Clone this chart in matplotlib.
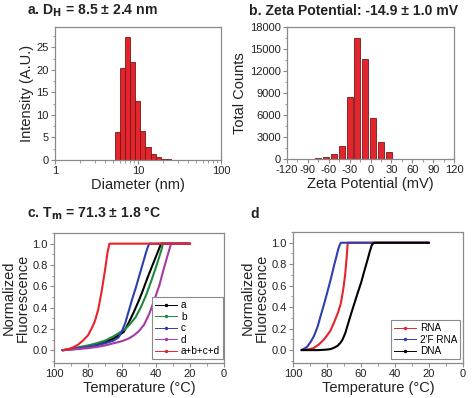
import numpy as np
import matplotlib
matplotlib.use('Agg')
import matplotlib.pyplot as plt
from matplotlib.lines import Line2D
from matplotlib.ticker import MultipleLocator, LogLocator, NullFormatter, FormatStrFormatter

plt.rcParams['font.family'] = ['Liberation Sans', 'DejaVu Sans']
plt.rcParams['axes.unicode_minus'] = False

# a. DLS size distribution
dh_edges = [5.28, 6.08, 7.01, 8.07, 9.30, 10.7, 12.3, 14.2, 16.4, 18.9, 21.7, 25.0, 28.8]
dh_counts = [6.3, 20.5, 27.3, 21.8, 13.1, 6.4, 2.9, 1.4, 0.7, 0.3, 0.15, 0.05]

# b. zeta potential distribution
zeta_mv = [-74.8, -63.6, -52.4, -41.2, -30.0, -18.8, -7.6, 3.6, 14.8, 26.0]
zeta_counts = [100, 250, 700, 1750, 8400, 16550, 13570, 5550, 2300, 920]

# c. melting curves
red_t = [95, 92, 89, 86, 83, 80, 78, 76, 74, 72, 70, 68.5, 67.4, 60, 40, 20]
red_f = [0, 0.008, 0.025, 0.05, 0.09, 0.14, 0.2, 0.27, 0.38, 0.55, 0.75, 0.92, 1.0, 1.0, 1.0, 1.0]
a_t = [95, 90, 85, 80, 75, 70, 65, 62, 59, 56, 53, 50, 48, 45, 42, 40, 38, 37, 30, 20]
a_f = [0, 0.01, 0.02, 0.035, 0.05, 0.075, 0.11, 0.14, 0.17, 0.26, 0.36, 0.47, 0.55, 0.68, 0.8, 0.88, 0.96, 1.0, 1.0, 1.0]
b_t = [95, 90, 85, 80, 75, 70, 65, 62, 58, 55, 52, 49, 46, 43, 40, 38, 36.5, 36, 30, 20]
b_f = [0, 0.012, 0.03, 0.045, 0.065, 0.09, 0.13, 0.16, 0.2, 0.25, 0.31, 0.4, 0.51, 0.64, 0.78, 0.88, 0.96, 1.0, 1.0, 1.0]
c_t = [95, 90, 85, 80, 75, 70, 65, 62, 60, 58, 56, 54, 52, 50, 48, 46, 45, 44, 30, 20]
c_f = [0, 0.008, 0.02, 0.03, 0.045, 0.065, 0.09, 0.12, 0.18, 0.26, 0.37, 0.48, 0.58, 0.69, 0.8, 0.91, 0.96, 1.0, 1.0, 1.0]
d_t = [95, 90, 85, 80, 75, 70, 65, 60, 56, 53, 50, 47, 44, 41, 38, 35.5, 33, 31.5, 31, 20]
d_f = [0, 0.005, 0.012, 0.02, 0.03, 0.045, 0.065, 0.085, 0.11, 0.14, 0.18, 0.24, 0.34, 0.47, 0.61, 0.76, 0.9, 0.98, 1.0, 1.0]

# d. RNA / 2'F RNA / DNA
rna_t = [95, 90, 87.7, 85, 81.7, 78, 75.8, 73.5, 71.8, 70.5, 69.4, 68.5, 67.8, 50, 20]
rna_f = [0, 0.01, 0.02, 0.05, 0.1, 0.18, 0.26, 0.35, 0.44, 0.56, 0.69, 0.85, 1.0, 1.0, 1.0]
frna_t = [95, 91.7, 89.5, 87.7, 85.5, 83.7, 81.7, 79.8, 77.8, 75.8, 74.5, 73.4, 72.5, 71.8, 50, 20]
frna_f = [0, 0.03, 0.08, 0.13, 0.22, 0.32, 0.43, 0.54, 0.66, 0.79, 0.87, 0.94, 0.98, 1.0, 1.0, 1.0]
dna_t = [95, 85, 80, 77.8, 75.5, 73.8, 72, 70.8, 69.2, 67.9, 66, 64, 62, 59.9, 58, 56, 54.8, 53.6, 52.4, 40, 20]
dna_f = [0, 0.0, 0.005, 0.01, 0.025, 0.04, 0.07, 0.1, 0.16, 0.23, 0.33, 0.43, 0.53, 0.63, 0.74, 0.85, 0.92, 0.98, 1.0, 1.0, 1.0]

grey = '#8a8a8a'
txt = '#222222'
bar_red = '#e3262d'
bar_edge = '#7a1515'

fig = plt.figure(figsize=(4.74, 3.98), dpi=100)
W, H = 474, 398


def box(l, t, r, b):
    return [l / W, 1 - b / H, (r - l) / W, (b - t) / H]


def style(ax):
    for s in ax.spines.values():
        s.set_color(grey)
        s.set_linewidth(0.9)
    ax.tick_params(which='both', direction='out', colors=grey, labelcolor=txt,
                   labelsize=8, top=False, right=False)
    ax.tick_params(which='major', length=3, width=0.8, pad=1.5)
    ax.tick_params(which='minor', length=1.8, width=0.6)


def melt_axes(ax, series, anchor):
    handles = []
    for t, f, col, lab in series:
        ax.plot(t, f, color=col, lw=1.5, solid_capstyle='round')
        handles.append(Line2D([], [], color=col, lw=0.7, marker='.', ms=3, label=lab))
    ax.set_xlim(100, 0)
    ax.set_ylim(-0.12, 1.1)
    ax.xaxis.set_major_locator(MultipleLocator(20))
    ax.xaxis.set_minor_locator(MultipleLocator(10))
    ax.yaxis.set_major_locator(MultipleLocator(0.2))
    ax.yaxis.set_minor_locator(MultipleLocator(0.1))
    ax.yaxis.set_major_formatter(FormatStrFormatter('%.1f'))
    style(ax)
    ax.set_xlabel('Temperature (°C)', fontsize=10.5, color=txt, labelpad=1)
    ax.set_ylabel('Normalized\nFluorescence', fontsize=10.5, color=txt, labelpad=2, linespacing=1.0)
    leg = ax.legend(handles=handles, loc='lower right', bbox_to_anchor=anchor, fontsize=7.2,
                    handlelength=2.2, handletextpad=0.4, borderpad=0.3, labelspacing=0.15,
                    fancybox=False, framealpha=1, edgecolor=grey, borderaxespad=0)
    leg.get_frame().set_linewidth(0.8)


ax1 = fig.add_axes(box(55, 27, 221, 160))
ax1.bar(dh_edges[:-1], dh_counts, width=np.diff(dh_edges), align='edge',
        color=bar_red, edgecolor=bar_edge, linewidth=0.6)
ax1.set_xscale('log')
ax1.set_xlim(1, 100)
ax1.set_ylim(0, 29.5)
ax1.set_xticks([1, 10, 100])
ax1.set_xticklabels(['1', '10', '100'])
ax1.xaxis.set_minor_locator(LogLocator(base=10, subs=np.arange(2, 10)))
ax1.xaxis.set_minor_formatter(NullFormatter())
ax1.yaxis.set_major_locator(MultipleLocator(5))
ax1.yaxis.set_minor_locator(MultipleLocator(2.5))
style(ax1)
ax1.set_xlabel('Diameter (nm)', fontsize=10.5, color=txt, labelpad=1)
ax1.set_ylabel('Intensity (A.U.)', fontsize=10.5, color=txt, labelpad=2)

ax2 = fig.add_axes(box(287, 27, 454, 159))
ax2.bar(zeta_mv, zeta_counts, width=8.6, color=bar_red, edgecolor=bar_edge, linewidth=0.6)
ax2.set_xlim(-120, 120)
ax2.set_ylim(0, 18000)
ax2.xaxis.set_major_locator(MultipleLocator(30))
ax2.xaxis.set_minor_locator(MultipleLocator(15))
ax2.yaxis.set_major_locator(MultipleLocator(3000))
ax2.yaxis.set_minor_locator(MultipleLocator(1500))
style(ax2)
ax2.set_xlabel('Zeta Potential (mV)', fontsize=10.5, color=txt, labelpad=1)
ax2.set_ylabel('Total Counts', fontsize=10.5, color=txt, labelpad=2)

ax3 = fig.add_axes(box(54, 233, 224, 363))
melt_axes(ax3, [(a_t, a_f, 'black', 'a'), (b_t, b_f, '#1e8a3e', 'b'),
                (c_t, c_f, '#2d3fae', 'c'), (d_t, d_f, '#a53aa5', 'd'),
                (red_t, red_f, '#e8232a', 'a+b+c+d')], (0.995, 0.03))

ax4 = fig.add_axes(box(293, 232, 463, 363))
melt_axes(ax4, [(rna_t, rna_f, '#e8232a', 'RNA'), (frna_t, frna_f, '#2d3fae', "2'F RNA"),
                (dna_t, dna_f, 'black', 'DNA')], (0.985, 0.03))

tkw = dict(fontsize=10.1, fontweight='bold', color=txt, va='baseline', ha='left')
fig.text(27 / W, 1 - 15 / H, 'a. D$_\\mathbf{H}$ = 8.5 ± 2.4 nm', **tkw)
fig.text(249 / W, 1 - 15 / H, 'b. Zeta Potential: -14.9 ± 1.0 mV', **tkw)
fig.text(27 / W, 1 - 218 / H, 'c. T$_\\mathbf{m}$ = 71.3 ± 1.8 °C', **tkw)
fig.text(250 / W, 1 - 218 / H, 'd', **tkw)

fig.savefig('out.png', dpi=100)
